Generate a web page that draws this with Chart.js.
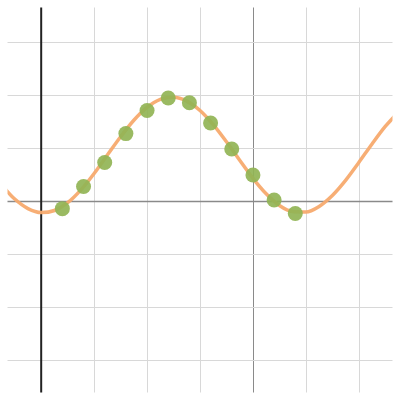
<!DOCTYPE html>
<html><head><meta charset="utf-8">
<script src="https://cdn.jsdelivr.net/npm/chart.js@4"></script>
<style>html,body{margin:0;padding:0;background:#fff}#w{width:400px;height:400px}</style>
</head><body><div id="w"><canvas id="c"></canvas></div>
<script>
const curveX = [-0.75,-0.5,-0.25,0,0.25,0.5,0.75,1,1.25,1.5,1.75,2,2.25,2.5,2.75,3,3.25,3.5,3.75,4,4.25,4.5,4.75,5,5.25,5.5,5.75,6,6.25,6.5,6.75];
const curveY = [0.303,0.036,-0.144,-0.219,-0.180,-0.033,0.209,0.520,0.867,1.213,1.525,1.768,1.919,1.959,1.886,1.709,1.442,1.117,0.769,0.427,0.135,-0.085,-0.201,-0.209,-0.103,0.104,0.390,0.727,1.077,1.407,1.681];
const pointX = [0.4,0.8,1.2,1.6,2.0,2.4,2.8,3.2,3.6,4.0,4.4,4.8];
const pointY = [-0.145,0.273,0.727,1.273,1.709,1.945,1.855,1.473,0.982,0.491,0.018,-0.236];
const gridXTicks = [1,2,3,4,5,6];
const gridYTicks = [-3,-2,-1,1,2,3];
const gridPlugin = {
  id: 'grid',
  beforeDatasetsDraw(chart) {
    const {ctx, chartArea: a, scales: {x, y}} = chart;
    ctx.save();
    const line = (x1,y1,x2,y2,col,w) => { ctx.strokeStyle = col; ctx.lineWidth = w; ctx.beginPath(); ctx.moveTo(x1,y1); ctx.lineTo(x2,y2); ctx.stroke(); };
    gridXTicks.forEach(v => { const p = Math.round(x.getPixelForValue(v)) + 0.5; line(p, a.top, p, a.bottom, v === 4 ? '#8a8a8a' : '#d8d8d8', 1); });
    gridYTicks.forEach(v => { const p = Math.round(y.getPixelForValue(v)) + 0.5; line(a.left, p, a.right, p, '#d8d8d8', 1); });
    const y0 = Math.round(y.getPixelForValue(0)) + 0.5;
    line(a.left, y0, a.right, y0, '#8a8a8a', 1.5);
    const x0 = x.getPixelForValue(0);
    line(x0, a.top, x0, a.bottom, '#222', 2);
    ctx.restore();
  }
};
new Chart(document.getElementById('c'), {
  type: 'scatter',
  data: { datasets: [
    { data: pointX.map((x,i)=>({x, y: pointY[i]})), backgroundColor: 'rgba(145,180,85,0.92)', borderWidth: 0, pointRadius: 7.5, order: 0 },
    { data: curveX.map((x,i)=>({x, y: curveY[i]})), showLine: true, cubicInterpolationMode: 'monotone', borderColor: 'rgba(247,170,110,0.95)', borderWidth: 3.5, pointRadius: 0, order: 1 }
  ]},
  options: {
    responsive: true, maintainAspectRatio: false, animation: false,
    layout: { padding: 0 },
    plugins: { legend: { display: false }, tooltip: { enabled: false } },
    scales: {
      x: { type: 'linear', display: false, min: -35/55, max: 365/55 },
      y: { type: 'linear', display: false, min: -199/55, max: 201/55 }
    }
  },
  plugins: [gridPlugin]
});
</script></body></html>
